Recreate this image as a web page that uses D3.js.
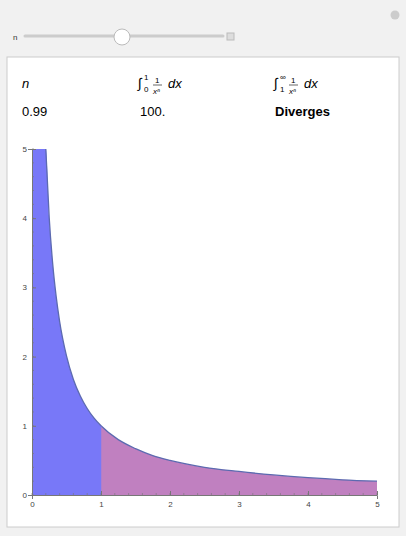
<!DOCTYPE html><html><head><meta charset="utf-8"><script src="https://cdn.jsdelivr.net/npm/d3@7"></script>
<style>body{margin:0;background:#f1f1f1;font-family:"Liberation Sans",Arial,sans-serif}</style></head><body><svg id="c" width="406" height="536"></svg>
<script>
const xs=[0,0.2,0.25,0.3,0.35,0.4,0.5,0.6,0.7,0.8,0.9,1,1.25,1.5,1.75,2,2.5,3,3.5,4,4.5,5];
const ys=[5,5,4,3.34,2.87,2.51,2.01,1.67,1.43,1.25,1.11,1,0.8,0.67,0.57,0.5,0.4,0.34,0.29,0.25,0.22,0.2];
const xTicks=[0,1,2,3,4,5], yTicks=[0,1,2,3,4,5];
const nVal="0.99", int1="100.", int2="Diverges";
const svg=d3.select("#c");
// slider
svg.append("text").attr("x",13).attr("y",40).attr("font-size",8).attr("fill","#333").text("n");
svg.append("line").attr("x1",25).attr("x2",223).attr("y1",36).attr("y2",36).attr("stroke","#ccc").attr("stroke-width",3).attr("stroke-linecap","round");
svg.append("circle").attr("cx",122).attr("cy",37).attr("r",8).attr("fill","#fff").attr("stroke","#bbb");
svg.append("rect").attr("x",227).attr("y",33).attr("width",7).attr("height",7).attr("fill","#ddd").attr("stroke","#bbb");
svg.append("circle").attr("cx",395).attr("cy",15).attr("r",4.5).attr("fill","#ccc");
svg.append("rect").attr("x",7).attr("y",57).attr("width",392).attr("height",470).attr("fill","#fff").attr("stroke","#ccc");
const t=(x,y,s,o={})=>svg.append("text").attr("x",x).attr("y",y).attr("font-size",o.fs||13).attr("font-style",o.it?"italic":null).attr("font-weight",o.b?"bold":null).attr("fill","#000").text(s);
t(22,88,"n",{it:1});
t(22,116,nVal);t(140,116,int1);t(275,116,int2,{b:1});
function integ(x,lo,hi){t(x,88,"∫",{fs:14});t(x+6,80,hi,{fs:8});t(x+6,92,lo,{fs:8});
 t(x+17,83,"1",{fs:8});svg.append("line").attr("x1",x+15).attr("x2",x+24).attr("y1",85).attr("y2",85).attr("stroke","#000").attr("stroke-width",0.6);
 t(x+15,94,"xⁿ",{fs:8,it:1});t(x+30,88,"dx",{it:1});}
integ(138,"0","1");integ(274,"1","∞");
const x=d3.scaleLinear().domain([0,5]).range([32,377]);
const y=d3.scaleLinear().domain([0,5]).range([495,149]);
const pts=xs.map((d,i)=>[d,ys[i]]);
const area=d3.area().x(d=>x(d[0])).y0(y(0)).y1(d=>y(d[1])).curve(d3.curveMonotoneX);
svg.append("path").attr("d",area(pts.filter(d=>d[0]<=1))).attr("fill","#7878f8");
svg.append("path").attr("d",area(pts.filter(d=>d[0]>=1))).attr("fill","#c080c0");
svg.append("path").attr("d",d3.line().x(d=>x(d[0])).y(d=>y(d[1])).curve(d3.curveMonotoneX)(pts.filter(d=>d[0]>=0.2))).attr("fill","none").attr("stroke","#5c6ab0").attr("stroke-width",1.3);
svg.append("line").attr("x1",x(1)).attr("x2",x(1)).attr("y1",y(0)).attr("y2",y(1)).attr("stroke","#7878f8").attr("stroke-width",0.5);
const gx=svg.append("g").attr("transform",`translate(0,${y(0)})`).call(d3.axisBottom(x).tickValues(xTicks).tickSize(4).tickFormat(d3.format("d")));
const gy=svg.append("g").attr("transform",`translate(${x(0)},0)`).call(d3.axisLeft(y).tickValues(yTicks).tickSize(4).tickFormat(d3.format("d")));
[gx,gy].forEach(g=>{g.select(".domain").attr("stroke","#777");g.selectAll("line").attr("stroke","#777");g.selectAll("text").attr("fill","#444").attr("font-size",8);});
gy.selectAll(".tick line").attr("x2",4);gx.selectAll(".tick line").attr("y2",-4);
gy.selectAll(".tick text").attr("x",-5);gx.selectAll(".tick text").attr("y",6);
const minor=d3.range(0,5.01,0.2);
svg.append("g").selectAll("line").data(minor).join("line").attr("x1",d=>x(d)).attr("x2",d=>x(d)).attr("y1",y(0)).attr("y2",y(0)-2).attr("stroke","#777").attr("stroke-width",0.6);
svg.append("g").selectAll("line").data(minor).join("line").attr("y1",d=>y(d)).attr("y2",d=>y(d)).attr("x1",x(0)).attr("x2",x(0)+2).attr("stroke","#777").attr("stroke-width",0.6);
</script></body></html>
